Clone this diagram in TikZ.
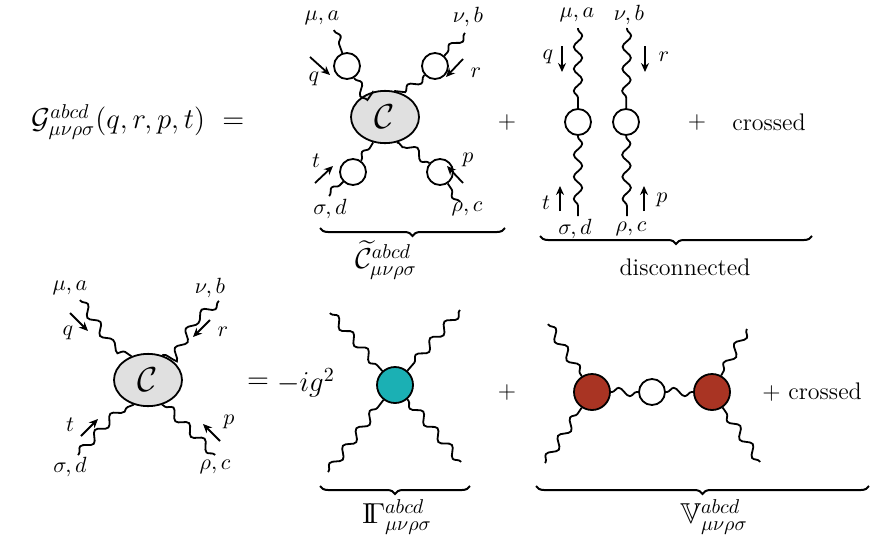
\RequirePackage{fix-cm}
\documentclass[tikz,border=0pt]{standalone}
\usepackage{amssymb}
\usetikzlibrary{decorations.pathmorphing,decorations.pathreplacing,arrows.meta,shapes.geometric}
\begin{document}
\begin{tikzpicture}[x=0.5pt,y=-0.5pt,
  wav/.style={decorate,decoration={snake,amplitude=2.1,segment length=11,pre length=0.5,post length=0.5},line width=0.9pt},
  prop/.style={circle,draw,line width=0.9pt,fill=white,minimum size=13,inner sep=0},
  blob/.style={ellipse,draw,line width=0.9pt,fill=black!12,minimum width=34,minimum height=24,font=\fontsize{17.28}{20}\selectfont},
  vtx/.style={circle,draw,line width=0.9pt,minimum size=18,inner sep=0},
  mom/.style={-{Stealth[length=4.5pt,width=4pt]},line width=0.9pt},
  lab/.style={font=\fontsize{11}{13}\selectfont,inner sep=0.5pt},
  big/.style={font=\fontsize{12}{14}\selectfont,inner sep=0.5pt},
  mbig/.style={font=\fontsize{14.4}{17}\selectfont,inner sep=0.5pt},
  brc/.style={decorate,decoration={brace,mirror,amplitude=4pt},line width=1pt}]
\useasboundingbox (0,0) rectangle (872,536);
% LHS
\node[mbig] (lhs) at (138,122) {$\mathcal{G}^{abcd}_{\mu\nu\rho\sigma}(q,r,p,t)\ =$};
% top connected
\node[blob] (C1) at (385,117) {$\mathcal{C}$};
\node[prop] (p1) at (347,66) {};
\node[prop] (p2) at (435,66) {};
\node[prop] (p3) at (353,172) {};
\node[prop] (p4) at (440,172) {};
\coordinate (e1) at (334,30); \coordinate (e2) at (465,33);
\coordinate (e3) at (329,196); \coordinate (e4) at (460,202);
\draw[wav] (e1) -- (p1);
\draw[wav] (p1) -- (365,96) -- (C1.115);
\draw[wav] (e2) -- (p2);
\draw[wav] (p2) -- (410,88) -- (C1.70);
\draw[wav] (e3) -- (p3);
\draw[wav] (p3) -- (372,145) -- (C1.245);
\draw[wav] (e4) -- (p4);
\draw[wav] (p4) -- (410,147) -- (C1.295);
\node[lab] (l1) at (322,18) {$\mu,a$};
\node[lab] (l2) at (468,17) {$\nu,b$};
\node[lab] (l3) at (330,209) {$\sigma,d$};
\node[lab] (l4) at (467,209) {$\rho,c$};
\coordinate (qa) at (310,57); \coordinate (qb) at (330,75);
\draw[mom] (qa) -- (qb); \node[lab] (lq) at (314,79) {$q$};
\coordinate (ra) at (463,59); \coordinate (rb) at (446,77);
\draw[mom] (ra) -- (rb); \node[lab] (lr) at (476,73) {$r$};
\coordinate (ta) at (315,183); \coordinate (tb) at (333,166);
\draw[mom] (ta) -- (tb); \node[lab] (lt) at (316,161) {$t$};
\coordinate (pa) at (463,183); \coordinate (pb) at (447,166);
\draw[mom] (pa) -- (pb); \node[lab] (lp) at (468,160) {$p$};
\coordinate (b1a) at (320,228); \coordinate (b1b) at (505,228);
\draw[brc] (b1a) -- (b1b);
\node[mbig] (ct) at (386,260) {$\widetilde{\mathcal{C}}^{abcd}_{\mu\nu\rho\sigma}$};
\node[big] (plus1) at (507,122) {$+$};
% disconnected
\node[prop] (d1) at (578,122) {};
\node[prop] (d2) at (626,122) {};
\coordinate (f1) at (578,28); \coordinate (f2) at (578,216);
\coordinate (f3) at (627,28); \coordinate (f4) at (627,216);
\draw[wav] (f1) -- (d1); \draw[wav] (d1) -- (f2);
\draw[wav] (f3) -- (d2); \draw[wav] (d2) -- (f4);
\node[lab] (m1) at (577,15) {$\mu,a$};
\node[lab] (m2) at (629,15) {$\nu,b$};
\node[lab] (m3) at (575,229) {$\sigma,d$};
\node[lab] (m4) at (631,229) {$\rho,c$};
\coordinate (dqa) at (562,46); \coordinate (dqb) at (562,72);
\draw[mom] (dqa) -- (dqb); \node[lab] (dq) at (548,57) {$q$};
\coordinate (dra) at (645,46); \coordinate (drb) at (645,72);
\draw[mom] (dra) -- (drb); \node[lab] (dr) at (664,57) {$r$};
\coordinate (dta) at (560,211); \coordinate (dtb) at (560,186);
\draw[mom] (dta) -- (dtb); \node[lab] (dt) at (546,203) {$t$};
\coordinate (dpa) at (644,211); \coordinate (dpb) at (644,186);
\draw[mom] (dpa) -- (dpb); \node[lab] (dp) at (662,200) {$p$};
\coordinate (b2a) at (540,236); \coordinate (b2b) at (812,236);
\draw[brc] (b2a) -- (b2b);
\node[big] (disc) at (685,267) {disconnected};
\node[big] (plus2) at (697,122) {$+$};
\node[big] (cr1) at (769,122) {crossed};
% bottom C
\node[blob] (C2) at (148,380) {$\mathcal{C}$};
\coordinate (g1) at (80,300); \coordinate (g2) at (219,301);
\coordinate (g3) at (78,455); \coordinate (g4) at (215,455);
\draw[wav] (g1) -- (108,340) -- (C2.125);
\draw[wav] (g2) -- (198,318) -- (180,350) -- (C2.60);
\draw[wav] (g3) -- (105,425) -- (120,410) -- (C2.240);
\draw[wav] (g4) -- (190,430) -- (172,412) -- (C2.300);
\node[lab] (n1) at (70,288) {$\mu,a$};
\node[lab] (n2) at (210,288) {$\nu,b$};
\node[lab] (n3) at (70,467) {$\sigma,d$};
\node[lab] (n4) at (215,467) {$\rho,c$};
\coordinate (bqa) at (70,313); \coordinate (bqb) at (88,331);
\draw[mom] (bqa) -- (bqb); \node[lab] (bq) at (68,333) {$q$};
\coordinate (bra) at (210,320); \coordinate (brb) at (193,337);
\draw[mom] (bra) -- (brb); \node[lab] (br) at (223,332) {$r$};
\coordinate (bta) at (81,436); \coordinate (btb) at (98,419);
\draw[mom] (bta) -- (btb); \node[lab] (bt) at (70,425) {$t$};
\coordinate (bpa) at (220,441); \coordinate (bpb) at (203,424);
\draw[mom] (bpa) -- (bpb); \node[lab] (bp) at (229,422) {$p$};
\node[mbig] (eq) at (258,383) {$=$};
\node[mbig] (ig) at (306,383) {$-ig^2$};
% four-vertex
\definecolor{tl}{HTML}{1BB0B4}
\node[vtx,fill=tl] (V0) at (395,385) {};
\coordinate (h1) at (330,313); \coordinate (h2) at (460,310);
\coordinate (h3) at (328,472); \coordinate (h4) at (461,462);
\draw[wav] (h1) -- (V0); \draw[wav] (h2) -- (V0);
\draw[wav] (h3) -- (V0); \draw[wav] (h4) -- (V0);
\coordinate (b3a) at (320,486); \coordinate (b3b) at (470,486);
\draw[brc] (b3a) -- (b3b);
\node[mbig] (II) at (397,517) {$\mathrm{I}\!\Gamma^{abcd}_{\mu\nu\rho\sigma}$};
\node[big] (plus3) at (507,392) {$+$};
% three-vertex pair
\definecolor{rd}{HTML}{A93423}
\node[vtx,fill=rd] (R1) at (592,392) {};
\node[vtx,fill=rd] (R2) at (712,392) {};
\node[prop] (P0) at (652,392) {};
\draw[wav] (R1) -- (P0); \draw[wav] (P0) -- (R2);
\coordinate (k1) at (548,324); \coordinate (k2) at (545,463);
\coordinate (k3) at (747,329); \coordinate (k4) at (760,462);
\draw[wav] (k1) -- (R1); \draw[wav] (k2) -- (R1);
\draw[wav] (k3) -- (R2); \draw[wav] (k4) -- (R2);
\coordinate (b4a) at (536,486); \coordinate (b4b) at (869,486);
\draw[brc] (b4a) -- (b4b);
\node[mbig] (VV) at (714,517) {$\mathbb{V}^{abcd}_{\mu\nu\rho\sigma}$};
\node[big] (cr2) at (812,392) {$+$ crossed};
\end{tikzpicture}
\end{document}
